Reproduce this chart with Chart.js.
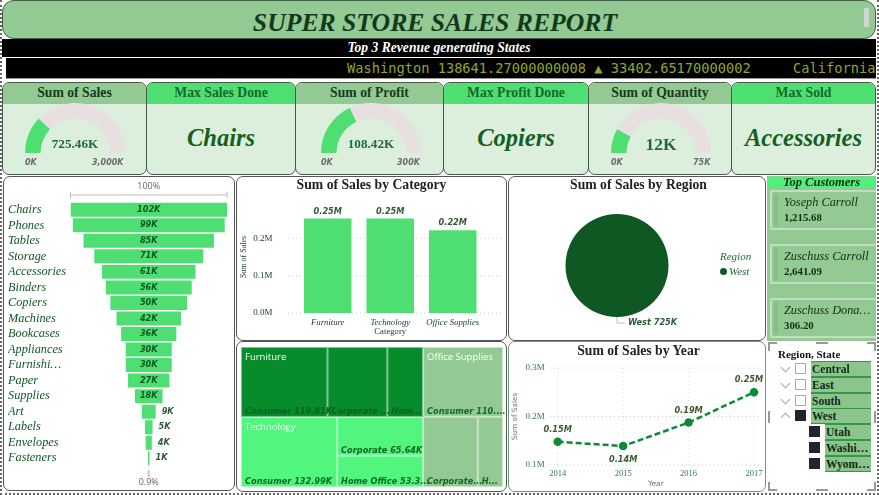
<!DOCTYPE html>
<html>
<head>
<meta charset="utf-8">
<title>Super Store Sales Report</title>
<script src="https://cdn.jsdelivr.net/npm/chart.js@4/dist/chart.umd.js"></script>
<style>
  html, body { margin: 0; padding: 0; background: #fff; }
  body { width: 879px; height: 495px; position: relative; overflow: hidden; font-family: "Liberation Serif", serif; }
  div, canvas { position: absolute; box-sizing: border-box; }
  .frame { left: 0; top: 0; width: 879px; height: 495px; border: 2px dotted #666; border-top: none; }
  .header { left: 2px; top: 0; width: 874px; height: 39px; padding-right: 8px; background: #93c993; border: 1px solid #3f5f45; border-radius: 12px; text-align: center; font: italic bold 25.7px/44px "Liberation Serif"; color: #113a1b; }
  .thumb { left: 864px; top: 8px; width: 5px; height: 19px; background: #d0d6d0; }
  .black { background: #000; }
  .sub { left: 2px; top: 39px; width: 874px; height: 18px; text-align: center; color: #fff; font: italic bold 13.6px/18px "Liberation Serif"; }
  .ticker { left: 6px; top: 58px; width: 870px; height: 21px; border-bottom: 1px solid #999; }
  .tick-text { top: 0; white-space: pre; color: #8fa52f; font: 13.7px/20px "DejaVu Sans Mono"; }
  .card { top: 82px; height: 93px; background: #dcefdc; border: 1px solid #465a4a; border-radius: 7px; overflow: hidden; }
  .card-head { left: 0; top: 0; width: 100%; height: 21px; text-align: center; font: bold 13.7px/20px "Liberation Serif"; }
  .big { left: 0; width: 100%; top: 35px; text-align: center; font: italic bold 24.5px/40px "Liberation Serif"; color: #155f22; }
  .gauge-val { text-align: center; font-weight: bold; color: #1f6b3a; width: 100px; }
  .gauge-min { font: italic bold 8px "DejaVu Sans"; color: #6b6b6b; }
  .panel { background: #fff; border: 1px solid #555; border-radius: 7px; }
  .ptitle { text-align: center; font: bold 13.7px/18px "Liberation Serif"; color: #222; white-space: nowrap; }
  .legend-t { font: italic 11px "Liberation Serif"; color: #1f6b3a; }
  .legend-dot { width: 7px; height: 7px; border-radius: 50%; background: #0f5823; }
  .cust { left: 770px; width: 106px; height: 40px; border: 2px solid #c2dec2; border-right: none; }
  .cust-band { left: 2px; top: 2px; width: 4px; height: 32px; background: #86bb86; }
  .cust-name { left: 12px; top: 2px; font: italic 12.3px/16px "Liberation Serif"; color: #0e2f16; white-space: nowrap; }
  .cust-val { left: 12px; top: 18px; font: bold 10.8px/15px "Liberation Serif"; color: #0e2f16; }
  .slicer { left: 768px; top: 342px; width: 108px; height: 149px; background: #fff; }
  .handle { background: #999; }
  .slicer-t { left: 778px; top: 347px; font: bold 11px/14px "Liberation Serif"; color: #111; white-space: nowrap; }
  .s-row { height: 16px; background: #8cc48c; border-top: 1px solid #2f9a45; border-bottom: 1px solid #2f9a45; font: bold 11.5px/14px "Liberation Serif"; color: #102c16; padding-left: 1px; white-space: nowrap; }
  .s-box { width: 11px; height: 11px; border: 1px solid #aaa; background: #fff; }
  .s-on { background: #20242c; border-color: #20242c; }
  .s-chev { width: 7px; height: 7px; border-right: 1px solid #aaa; border-bottom: 1px solid #aaa; transform: rotate(45deg); }
  .s-up { transform: rotate(225deg); }
</style>
</head>
<body>
<div class="frame"></div>
<div class="header">SUPER STORE SALES REPORT</div>
<div class="thumb"></div>
<div class="black sub">Top 3 Revenue generating States</div>
<div class="black ticker">
  <div class="tick-text" style="left:341px">Washington 138641.27000000008 ▲ 33402.65170000002</div>
  <div class="tick-text" style="left:787px;width:83px;overflow:hidden">California</div>
</div>

<div class="card" style="left:2px;width:145px"><div class="card-head" style="background:#93c993;color:#173a20">Sum of Sales</div></div>
<div class="card" style="left:146px;width:150px"><div class="card-head" style="background:#4fde72;color:#136a2a">Max Sales Done</div><div class="big">Chairs</div></div>
<div class="card" style="left:295px;width:149px"><div class="card-head" style="background:#93c993;color:#173a20">Sum of Profit</div></div>
<div class="card" style="left:443px;width:146px"><div class="card-head" style="background:#4fde72;color:#136a2a">Max Profit Done</div><div class="big">Copiers</div></div>
<div class="card" style="left:588px;width:144px"><div class="card-head" style="background:#93c993;color:#173a20">Sum of Quantity</div></div>
<div class="card" style="left:731px;width:145px"><div class="card-head" style="background:#4fde72;color:#136a2a">Max Sold</div><div class="big">Accessories</div></div>

<canvas id="gaugeSales" width="100" height="50" style="left:25px;top:103px"></canvas>
<div class="gauge-val" style="left:25px;top:136px;font-size:13.2px">725.46K</div>
<div class="gauge-min" style="left:25px;top:158px">0K</div>
<div class="gauge-min" style="left:92px;top:158px">3,000K</div>

<canvas id="gaugeProfit" width="100" height="50" style="left:321px;top:103px"></canvas>
<div class="gauge-val" style="left:321px;top:136px;font-size:13.2px">108.42K</div>
<div class="gauge-min" style="left:321px;top:158px">0K</div>
<div class="gauge-min" style="left:397px;top:158px">300K</div>

<canvas id="gaugeQty" width="100" height="50" style="left:611px;top:103px"></canvas>
<div class="gauge-val" style="left:611px;top:134px;font-size:17.5px">12K</div>
<div class="gauge-min" style="left:611px;top:158px">0K</div>
<div class="gauge-min" style="left:693px;top:158px">75K</div>

<div class="panel" style="left:3px;top:176px;width:232px;height:315px"></div>
<canvas id="funnel" width="232" height="315" style="left:3px;top:176px"></canvas>

<div class="panel" style="left:236px;top:176px;width:271px;height:165px"></div>
<div class="ptitle" style="left:236px;top:176px;width:271px">Sum of Sales by Category</div>
<canvas id="catChart" width="271" height="164" style="left:236px;top:176px"></canvas>

<div class="panel" style="left:508px;top:176px;width:258px;height:165px"></div>
<div class="ptitle" style="left:508px;top:176px;width:261px">Sum of Sales by Region</div>
<canvas id="regionChart" width="258" height="164" style="left:508px;top:176px"></canvas>
<div class="legend-t" style="left:720px;top:250px">Region</div>
<div class="legend-dot" style="left:720px;top:268px"></div>
<div class="legend-t" style="left:729px;top:265px">West</div>

<div class="panel" style="left:236px;top:341px;width:271px;height:151px"></div>
<canvas id="treemap" width="271" height="151" style="left:236px;top:341px"></canvas>

<div class="panel" style="left:508px;top:341px;width:258px;height:151px;border-color:#6f9a78"></div>
<div class="ptitle" style="left:508px;top:342px;width:261px">Sum of Sales by Year</div>
<canvas id="yearChart" width="258" height="151" style="left:508px;top:341px"></canvas>

<div style="left:767px;top:176px;width:109px;height:165px;background:#93c993"></div>
<div style="left:767px;top:177px;width:109px;height:11px;background:#4ff07c;text-align:center;font:italic bold 12.5px/11px 'Liberation Serif';color:#0e2f16">Top Customers</div>
<div class="cust" style="top:190px"><div class="cust-band"></div><div class="cust-name">Yoseph Carroll</div><div class="cust-val">1,215.68</div></div>
<div class="cust" style="top:244px"><div class="cust-band"></div><div class="cust-name">Zuschuss Carroll</div><div class="cust-val">2,641.09</div></div>
<div class="cust" style="top:298px"><div class="cust-band"></div><div class="cust-name">Zuschuss Dona…</div><div class="cust-val">306.20</div></div>

<div class="slicer"></div>
<div class="handle" style="left:768px;top:342px;width:9px;height:2px"></div>
<div class="handle" style="left:768px;top:342px;width:2px;height:9px"></div>
<div class="handle" style="left:867px;top:342px;width:9px;height:2px"></div>
<div class="handle" style="left:874px;top:342px;width:2px;height:9px"></div>
<div class="handle" style="left:768px;top:489px;width:9px;height:2px"></div>
<div class="handle" style="left:768px;top:482px;width:2px;height:9px"></div>
<div class="handle" style="left:867px;top:489px;width:9px;height:2px"></div>
<div class="handle" style="left:874px;top:482px;width:2px;height:9px"></div>
<div class="handle" style="left:816px;top:342px;width:12px;height:2px"></div>
<div class="handle" style="left:816px;top:489px;width:12px;height:2px"></div>
<div class="handle" style="left:768px;top:411px;width:2px;height:12px"></div>
<div class="handle" style="left:874px;top:411px;width:2px;height:12px"></div>
<div class="slicer-t">Region, State</div>
<div id="slicerRows"></div>

<script>
// chart data
const gaugeSales = [725.46, 3000 - 725.46];
const gaugeProfit = [108.42, 300 - 108.42];
const gaugeQty = [12, 75 - 12];

const subCategories = ["Chairs", "Phones", "Tables", "Storage", "Accessories", "Binders", "Copiers", "Machines", "Bookcases", "Appliances", "Furnishi…", "Paper", "Supplies", "Art", "Labels", "Envelopes", "Fasteners"];
const subCategorySales = [102, 99, 85, 71, 61, 56, 50, 42, 36, 30, 30, 27, 18, 9, 5, 4, 1];

const categories = ["Furniture", "Technology", "Office Supplies"];
const categorySales = [0.253, 0.253, 0.2216];
const categoryLabels = ["0.25M", "0.25M", "0.22M"];
const categoryTicks = [0, 0.1, 0.2];

const regions = ["West"];
const regionSales = [725];

const years = ["2014", "2015", "2016", "2017"];
const yearSales = [0.148, 0.139, 0.1875, 0.25];
const yearLabels = ["0.15M", "0.14M", "0.19M", "0.25M"];
const yearTicks = [0.1, 0.2, 0.3];

const furnitureSales = [119.81, 83, 49.5];
const technologySales = [132.99, 65.64, 53.3];
const officeSales = [110.4, 76, 35];

const slicerItems = ["Central", "East", "South", "West"];
const slicerStates = ["Utah", "Washi…", "Wyom…"];

const serif = "Liberation Serif";
const sans = "DejaVu Sans";
const darkGreen = "#0f5823";
const barGreen = "#4fde72";
const labelFont = "italic bold 8.2px '" + sans + "'";

function sum(list) {
  return list.reduce((a, b) => a + b, 0);
}

function makeGauge(id, data) {
  new Chart(document.getElementById(id), {
    type: "doughnut",
    data: { datasets: [{ data: data, backgroundColor: [barGreen, "#e8e0e0"], borderWidth: 0 }] },
    options: {
      responsive: false,
      animation: false,
      rotation: -90,
      circumference: 180,
      cutout: "69%",
      plugins: { legend: { display: false }, tooltip: { enabled: false } },
    },
  });
}
makeGauge("gaugeSales", gaugeSales);
makeGauge("gaugeProfit", gaugeProfit);
makeGauge("gaugeQty", gaugeQty);

// axis boxes of a fixed size, without the extra room chart.js keeps for tick labels
function fixWidth(w) {
  return (s) => {
    s.width = w;
    s.paddingTop = 0;
    s.paddingBottom = 0;
  };
}
function fixHeight(h) {
  return (s) => {
    s.height = h;
    s.paddingLeft = 0;
    s.paddingRight = 0;
  };
}

// horizontal dotted lines that run past the plot area
function wideGrid(chart, values, left, right) {
  const ctx = chart.ctx;
  const y = chart.scales.y;
  ctx.save();
  ctx.strokeStyle = "#cfcfcf";
  ctx.setLineDash([1, 3]);
  values.forEach((v) => {
    ctx.beginPath();
    ctx.moveTo(left, y.getPixelForValue(v));
    ctx.lineTo(right, y.getPixelForValue(v));
    ctx.stroke();
  });
  ctx.restore();
}

// funnel
new Chart(document.getElementById("funnel"), {
  type: "bar",
  data: {
    labels: subCategories,
    datasets: [{
      data: subCategorySales.map((v) => [-v / 2, v / 2]),
      backgroundColor: barGreen,
      barPercentage: 0.9,
      categoryPercentage: 1,
    }],
  },
  options: {
    indexAxis: "y",
    responsive: false,
    animation: false,
    layout: { padding: { left: 5, right: 8, top: 26, bottom: 25 } },
    scales: {
      x: { display: false, min: -51, max: 51 },
      y: {
        afterFit: fixWidth(62.5),
        grid: { display: false, drawTicks: false },
        border: { display: false },
        ticks: {
          crossAlign: "far",
          autoSkip: false,
          padding: 0,
          color: darkGreen,
          font: { family: serif, size: 12.3, style: "italic" },
        },
      },
    },
    plugins: { legend: { display: false }, tooltip: { enabled: false } },
  },
  plugins: [{
    id: "funnelLabels",
    afterDatasetsDraw(chart) {
      const ctx = chart.ctx;
      const x = chart.scales.x;
      const y = chart.scales.y;
      const mid = x.getPixelForValue(0);
      const top = chart.chartArea.top;
      const bottom = chart.chartArea.bottom;
      ctx.save();
      ctx.textBaseline = "middle";
      subCategorySales.forEach((v, i) => {
        ctx.font = labelFont;
        const py = y.getPixelForValue(i);
        const text = v + "K";
        if (v >= 18) {
          ctx.fillStyle = darkGreen;
          ctx.textAlign = "center";
          ctx.fillText(text, mid, py);
        } else {
          ctx.fillStyle = "#2f5a3a";
          ctx.textAlign = "left";
          ctx.fillText(text, x.getPixelForValue(v / 2) + 6, py);
        }
      });
      // 100% bracket and the small end marker
      const first = subCategorySales[0] / 2;
      ctx.strokeStyle = "#bbb";
      ctx.beginPath();
      ctx.moveTo(x.getPixelForValue(-first), top - 10);
      ctx.lineTo(x.getPixelForValue(-first), top - 4);
      ctx.moveTo(x.getPixelForValue(-first), top - 7);
      ctx.lineTo(x.getPixelForValue(first), top - 7);
      ctx.moveTo(x.getPixelForValue(first), top - 10);
      ctx.lineTo(x.getPixelForValue(first), top - 4);
      ctx.stroke();
      ctx.fillStyle = "#ccc";
      ctx.fillRect(mid - 1, bottom + 4, 2, 7);
      ctx.fillStyle = "#666";
      ctx.textAlign = "center";
      ctx.font = "9px 'Open Sans'";
      ctx.fillText("100%", mid, top - 16);
      ctx.fillText("0.9%", mid, bottom + 16);
      ctx.restore();
    },
  }],
});

// sales by category
new Chart(document.getElementById("catChart"), {
  type: "bar",
  data: {
    labels: categories,
    datasets: [{ data: categorySales, backgroundColor: barGreen, barPercentage: 0.76, categoryPercentage: 1 }],
  },
  options: {
    responsive: false,
    animation: false,
    layout: { padding: { left: 0, right: 23, top: 25, bottom: 0 } },
    scales: {
      x: {
        afterFit: fixHeight(27),
        grid: { display: false, drawTicks: false },
        border: { display: false },
        ticks: { color: "#1a3a22", padding: 4, autoSkip: false, maxRotation: 0, font: { family: serif, size: 8.7, style: "italic" } },
        title: { display: true, text: "Category", color: "#1a3a22", padding: { top: 0, bottom: 3 }, font: { family: serif, size: 8.7 } },
      },
      y: {
        min: 0,
        max: 0.3,
        afterBuildTicks: (s) => { s.ticks = categoryTicks.map((v) => ({ value: v })); },
        afterFit: fixWidth(60.5),
        grid: { display: false, drawTicks: false },
        border: { display: false },
        ticks: { callback: (v) => v.toFixed(1) + "M", padding: 24, color: "#1a3a22", font: { family: serif, size: 9 } },
        title: { display: true, text: "Sum of Sales", color: "#1a3a22", padding: { top: 3, bottom: 0 }, font: { family: serif, size: 8 } },
      },
    },
    plugins: { legend: { display: false }, tooltip: { enabled: false } },
  },
  plugins: [{
    id: "catLabels",
    beforeDatasetsDraw(chart) {
      wideGrid(chart, categoryTicks, 52, 267);
    },
    afterDatasetsDraw(chart) {
      const ctx = chart.ctx;
      ctx.save();
      ctx.font = labelFont;
      ctx.fillStyle = "#2f5a3a";
      ctx.textAlign = "center";
      chart.getDatasetMeta(0).data.forEach((bar, i) => {
        ctx.fillText(categoryLabels[i], bar.x, bar.y - 5);
      });
      ctx.restore();
    },
  }],
});

// sales by region
new Chart(document.getElementById("regionChart"), {
  type: "pie",
  data: { labels: regions, datasets: [{ data: regionSales, backgroundColor: darkGreen, borderWidth: 0 }] },
  options: {
    responsive: false,
    animation: false,
    layout: { padding: { left: 57.5, right: 97.5, top: 38, bottom: 23 } },
    plugins: { legend: { display: false }, tooltip: { enabled: false } },
  },
  plugins: [{
    id: "regionLabel",
    afterDatasetsDraw(chart) {
      const ctx = chart.ctx;
      const arc = chart.getDatasetMeta(0).data[0];
      const leaderY = arc.y + arc.outerRadius + 6;
      ctx.save();
      ctx.strokeStyle = "#bbb";
      ctx.beginPath();
      ctx.moveTo(arc.x, arc.y + arc.outerRadius);
      ctx.lineTo(arc.x, leaderY);
      ctx.lineTo(arc.x + 8, leaderY);
      ctx.stroke();
      ctx.font = labelFont;
      ctx.fillStyle = "#2f5a3a";
      ctx.textBaseline = "middle";
      ctx.fillText(regions[0] + " " + regionSales[0] + "K", arc.x + 11, leaderY);
      ctx.restore();
    },
  }],
});

// treemap: rectangles are laid out from the sales values, on linear scales
const treeTotal = sum(furnitureSales) + sum(technologySales) + sum(officeSales);
const leftWidth = sum(furnitureSales) + sum(technologySales);
const furnShare = sum(furnitureSales) / leftWidth;
const officeTop = officeSales[0] / sum(officeSales);
const techFirst = technologySales[0] / sum(technologySales);
const techSplit = technologySales[1] / (technologySales[1] + technologySales[2]);
const officeSplit = officeSales[1] / (officeSales[1] + officeSales[2]);

function furnRects() {
  let x = 0;
  return furnitureSales.map((v) => {
    const w = (v / sum(furnitureSales)) * leftWidth;
    const r = { x0: x, x1: x + w, y0: 0, y1: furnShare };
    x += w;
    return r;
  });
}
const furnBoxes = furnRects();
const techMid = techFirst * leftWidth;
const techYMid = furnShare + (1 - furnShare) * techSplit;
const officeYMid = officeTop;
const officeXMid = leftWidth + sum(officeSales) * officeSplit;

const treeCells = [
  { ...furnBoxes[0], color: "#068c2a", label: "Consumer 119.81K" },
  { ...furnBoxes[1], color: "#068c2a", label: "Corporate ..." },
  { ...furnBoxes[2], color: "#068c2a", label: "Hom..." },
  { x0: 0, x1: techMid, y0: furnShare, y1: 1, color: "#52f57d", label: "Consumer 132.99K" },
  { x0: techMid, x1: leftWidth, y0: furnShare, y1: techYMid, color: "#52f57d", label: "Corporate 65.64K" },
  { x0: techMid, x1: leftWidth, y0: techYMid, y1: 1, color: "#52f57d", label: "Home Office 53.3..." },
  { x0: leftWidth, x1: treeTotal, y0: 0, y1: officeYMid, color: "#93c993", label: "Consumer 110...." },
  { x0: leftWidth, x1: officeXMid, y0: officeYMid, y1: 1, color: "#93c993", label: "Corporate..." },
  { x0: officeXMid, x1: treeTotal, y0: officeYMid, y1: 1, color: "#93c993", label: "H..." },
];
const treeGroups = [
  { name: "Furniture", x: 0, y: 0 },
  { name: "Technology", x: 0, y: furnShare },
  { name: "Office Supplies", x: leftWidth, y: 0 },
];

new Chart(document.getElementById("treemap"), {
  type: "scatter",
  data: { datasets: [{ data: [], pointRadius: 0 }] },
  options: {
    responsive: false,
    animation: false,
    layout: { padding: { left: 5, right: 4, top: 6, bottom: 5 } },
    scales: {
      x: { display: false, min: 0, max: treeTotal },
      y: { display: false, min: 0, max: 1, reverse: true },
    },
    plugins: { legend: { display: false }, tooltip: { enabled: false } },
  },
  plugins: [{
    id: "treeCells",
    afterDatasetsDraw(chart) {
      const ctx = chart.ctx;
      const x = chart.scales.x;
      const y = chart.scales.y;
      ctx.save();
      treeCells.forEach((c) => {
        const l = x.getPixelForValue(c.x0);
        const r = x.getPixelForValue(c.x1);
        const t = y.getPixelForValue(c.y0);
        const b = y.getPixelForValue(c.y1);
        ctx.fillStyle = c.color;
        ctx.fillRect(l, t, r - l, b - t);
        ctx.strokeStyle = "rgba(255,255,255,0.5)";
        ctx.strokeRect(l + 0.5, t + 0.5, r - l - 1, b - t - 1);
      });
      ctx.font = labelFont;
      ctx.textBaseline = "alphabetic";
      treeCells.forEach((c) => {
        const l = x.getPixelForValue(c.x0);
        const b = y.getPixelForValue(c.y1);
        ctx.fillStyle = c.color === "#068c2a" ? "#0a5f22" : "#0f6a2a";
        ctx.fillText(c.label, l + 4, b - 3);
      });
      ctx.font = "9.5px 'Open Sans'";
      ctx.fillStyle = "#fff";
      treeGroups.forEach((g) => {
        ctx.fillText(g.name, x.getPixelForValue(g.x) + 4, y.getPixelForValue(g.y) + 13);
      });
      ctx.restore();
    },
  }],
});

// sales by year
new Chart(document.getElementById("yearChart"), {
  type: "line",
  data: {
    labels: years,
    datasets: [{
      data: yearSales,
      borderColor: "#0b8a35",
      backgroundColor: "#0b8a35",
      borderWidth: 2.5,
      borderDash: [6, 3],
      pointRadius: 3,
      tension: 0,
    }],
  },
  options: {
    responsive: false,
    animation: false,
    layout: { padding: { left: 0, right: 12, top: 27, bottom: 0 } },
    scales: {
      x: {
        offset: false,
        afterFit: fixHeight(27),
        grid: { display: false, drawTicks: false },
        border: { display: false },
        ticks: { color: "#2f7a45", padding: 4, maxRotation: 0, font: { family: serif, size: 8.5 } },
        title: { display: true, text: "Year", color: "#777", padding: { top: 0, bottom: 3 }, font: { family: sans, size: 7.5 } },
      },
      y: {
        min: 0.1,
        max: 0.3,
        afterBuildTicks: (s) => { s.ticks = yearTicks.map((v) => ({ value: v })); },
        afterFit: fixWidth(49.7),
        grid: { display: false, drawTicks: false },
        border: { display: false },
        ticks: { callback: (v) => v.toFixed(1) + "M", padding: 13, color: "#2f7a45", font: { family: serif, size: 9 } },
        title: { display: true, text: "Sum of Sales", color: "#777", padding: { top: 3, bottom: 0 }, font: { family: sans, size: 7.3 } },
      },
    },
    plugins: { legend: { display: false }, tooltip: { enabled: false } },
  },
  plugins: [{
    id: "yearLabels",
    beforeDatasetsDraw(chart) {
      wideGrid(chart, yearTicks, 42, 252);
      // dotted verticals at each year
      const ctx = chart.ctx;
      const a = chart.chartArea;
      ctx.save();
      ctx.strokeStyle = "#dcdcdc";
      ctx.setLineDash([1, 3]);
      years.forEach((yr, i) => {
        const px = chart.scales.x.getPixelForValue(i);
        ctx.beginPath();
        ctx.moveTo(px, a.top);
        ctx.lineTo(px, a.bottom);
        ctx.stroke();
      });
      ctx.restore();
    },
    afterDatasetsDraw(chart) {
      const ctx = chart.ctx;
      ctx.save();
      ctx.font = labelFont;
      ctx.fillStyle = "#3f5a2a";
      ctx.textAlign = "center";
      chart.getDatasetMeta(0).data.forEach((pt, i) => {
        ctx.fillText(yearLabels[i], pt.x + (i === 3 ? -5 : 0), i === 1 ? pt.y + 16 : pt.y - 10);
      });
      ctx.restore();
    },
  }],
});

// slicer rows
const rows = document.getElementById("slicerRows");
function addRow(text, top, textLeft, boxLeft, on, chevron) {
  const row = document.createElement("div");
  row.className = "s-row";
  row.style.cssText = "left:" + textLeft + "px;top:" + top + "px;width:" + (871 - textLeft) + "px";
  row.textContent = text;
  rows.appendChild(row);
  const box = document.createElement("div");
  box.className = "s-box" + (on ? " s-on" : "");
  box.style.cssText = "left:" + boxLeft + "px;top:" + (top + 2) + "px";
  rows.appendChild(box);
  if (chevron) {
    const c = document.createElement("div");
    c.className = "s-chev" + (on ? " s-up" : "");
    c.style.cssText = "left:782px;top:" + (top + (on ? 6 : 3)) + "px";
    rows.appendChild(c);
  }
}
slicerItems.forEach((item, i) => addRow(item, 361 + i * 15.8, 811, 795, item === "West", true));
slicerStates.forEach((item, i) => addRow(item, 424 + i * 15.8, 825, 809, true, false));
</script>
</body>
</html>
